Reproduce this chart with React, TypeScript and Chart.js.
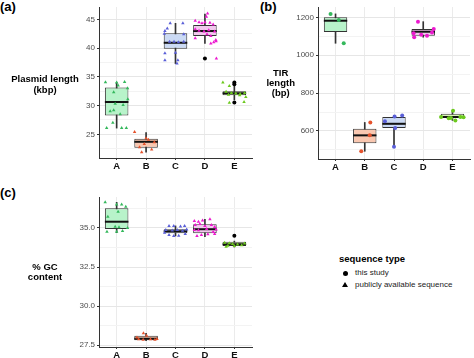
import React, { useEffect, useRef } from "react";
import { Chart, registerables } from "chart.js";
Chart.register(...registerables);

const FONT = '"Liberation Sans", Arial, Helvetica, sans-serif';
Chart.defaults.font.family = FONT;

const CATEGORIES = ["A", "B", "C", "D", "E"];
const POINT_COLORS = ["#34b85c", "#e5522c", "#5a5fd8", "#ec19cf", "#6cc91e"];
const BOX_FILLS = ["#b8f3ca", "#f9c7b0", "#cbdaf4", "#f2c8ee", "#daf5b8"];

// (a) Plasmid length (kbp)
const PL_Q1 = [28.25, 22.66, 39.87, 42.1, 31.79];
const PL_MEDIAN = [30.62, 23.7, 40.92, 42.96, 32.14];
const PL_Q3 = [33.13, 24.23, 42.56, 44.0, 32.49];
const PL_LOW = [26.08, 21.9, 37.3, 40.8, 31.0];
const PL_HIGH = [34.06, 25.28, 44.3, 45.9, 33.4];
const PL_OUTLIERS = [[], [], [], [38.2], [34.0, 33.7, 30.55]];
const PL_A = [[-0.38, 34.05], [0.0, 34.0], [0.27, 34.1], [0.05, 33.5], [-0.1, 32.3], [0.37, 33.0], [0.38, 31.1], [-0.05, 30.3], [0.22, 30.1], [-0.1, 29.2], [-0.22, 29.0], [0.12, 28.5], [-0.13, 27.0], [-0.34, 26.1], [0.17, 26.1], [0.33, 26.1]];
const PL_B = [[-0.39, 25.38], [0.0, 24.33], [0.08, 24.05], [0.28, 23.6], [-0.06, 23.3], [-0.15, 21.9], [0.19, 22.36], [-0.22, 22.77]];
const PL_C = [[-0.36, 42.96], [-0.28, 43.4], [-0.18, 44.3], [0.25, 44.3], [0.28, 42.4], [-0.38, 42.5], [-0.2, 41.1], [-0.05, 41.1], [0.1, 41.0], [0.28, 41.1], [0.0, 39.2], [-0.36, 39.1], [-0.36, 37.9], [0.08, 37.9], [0.05, 37.3]];
const PL_D = [[0.09, 46.0], [0.05, 45.45], [-0.33, 44.76], [-0.2, 44.5], [-0.1, 44.3], [0.0, 44.5], [0.17, 44.4], [0.28, 44.1], [-0.33, 43.25], [-0.2, 43.0], [-0.03, 42.9], [0.13, 43.1], [0.33, 42.9], [0.07, 42.4], [0.2, 42.1], [-0.33, 41.7], [0.37, 41.4], [0.2, 40.8], [0.3, 41.0], [0.38, 41.2], [0.39, 38.2]];
const PL_E = [[-0.39, 34.0], [-0.17, 33.4], [-0.28, 32.4], [-0.1, 32.2], [0.05, 32.1], [0.2, 32.0], [0.35, 32.2], [-0.2, 31.9], [0.18, 31.8], [0.39, 31.5], [-0.17, 30.5], [0.33, 30.6]];
const PL_MAJOR = [25, 30, 35, 40, 45];
const PL_MINOR = [22.5, 27.5, 32.5, 37.5, 42.5];
const PL_RANGE = [20.88, 47.14];

// (b) TIR length (bp)
const TIR_Q1 = [1122.6, 535, 616, 1103, 668];
const TIR_MEDIAN = [1182, 577, 638, 1124, 674];
const TIR_Q3 = [1200, 612, 674, 1138, 691];
const TIR_LOW = [1063, 493, 517, 1095, 656];
const TIR_HIGH = [1218, 645, 682, 1177, 707];
const TIR_OUTLIERS = [[], [], [], [], []];
const TIR_A = [[-0.17, 1218], [0.11, 1186], [0.28, 1063]];
const TIR_B = [[-0.12, 493], [0.19, 645], [0.17, 577]];
const TIR_C = [[-0.31, 651], [0.02, 677], [0.28, 682], [0.04, 616], [0.0, 517]];
const TIR_D = [[-0.18, 1177], [-0.33, 1116], [-0.31, 1095], [0.13, 1103], [-0.07, 1108], [0.36, 1138], [0.3, 1120]];
const TIR_E = [[0.02, 707], [-0.39, 674], [-0.13, 667], [0.1, 656], [0.27, 674], [0.38, 672], [-0.05, 668]];
const TIR_MAJOR = [600, 800, 1000, 1200];
const TIR_MINOR = [500, 700, 900, 1100];
const TIR_RANGE = [452.2, 1254.4];

// (c) % GC content
const GC_Q1 = [34.94, 27.82, 34.66, 34.66, 33.85];
const GC_MEDIAN = [35.4, 27.92, 34.79, 34.92, 33.96];
const GC_Q3 = [36.26, 28.11, 34.92, 35.24, 34.12];
const GC_LOW = [34.7, 27.8, 34.49, 34.45, 33.78];
const GC_HIGH = [36.64, 28.27, 35.13, 35.56, 34.16];
const GC_OUTLIERS = [[], [], [], [], [34.51]];
const GC_A = [[-0.39, 36.64], [0.0, 36.5], [0.17, 36.5], [0.31, 36.36], [0.05, 36.04], [-0.3, 35.72], [-0.05, 35.08], [0.08, 35.05], [-0.33, 34.76], [0.0, 34.76], [0.2, 34.8], [0.37, 35.0]];
const GC_B = [[-0.09, 28.27], [0.02, 28.11], [-0.31, 28.0], [-0.25, 27.88], [-0.1, 27.85], [0.15, 27.88], [0.3, 27.86], [0.37, 27.9]];
const GC_C = [[-0.22, 35.13], [-0.06, 35.13], [0.17, 35.1], [0.31, 35.13], [-0.33, 34.87], [-0.11, 34.84], [0.06, 34.87], [0.24, 34.83], [-0.22, 34.55], [-0.06, 34.49], [0.11, 34.5], [0.33, 34.62], [-0.37, 34.7], [0.38, 34.9]];
const GC_D = [[-0.36, 35.45], [-0.22, 35.4], [-0.08, 35.48], [0.17, 35.56], [-0.33, 35.19], [-0.17, 35.26], [0.0, 35.13], [0.22, 35.19], [0.33, 35.06], [-0.36, 34.87], [-0.22, 34.85], [0.06, 34.94], [0.28, 34.75], [-0.12, 34.55], [0.1, 34.6], [0.33, 34.62], [-0.27, 34.49], [0.38, 34.9]];
const GC_E = [[-0.33, 34.06], [-0.17, 34.02], [-0.06, 33.98], [0.11, 33.94], [-0.22, 33.87], [0.0, 33.84], [-0.28, 33.8], [0.25, 33.9], [0.35, 34.0]];
const GC_MAJOR = [27.5, 30, 32.5, 35];
const GC_MINOR = [28.75, 31.25, 33.75, 36.25];
const GC_RANGE = [27.39, 36.98];

type Spec = {
  q1: number[]; med: number[]; q3: number[]; lo: number[]; hi: number[];
  outliers: number[][]; points: number[][][]; shape: string;
  range: number[]; major: number[]; minor: number[]; decimals: number;
};

const SPEC_A: Spec = { q1: PL_Q1, med: PL_MEDIAN, q3: PL_Q3, lo: PL_LOW, hi: PL_HIGH, outliers: PL_OUTLIERS, points: [PL_A, PL_B, PL_C, PL_D, PL_E], shape: "triangle", range: PL_RANGE, major: PL_MAJOR, minor: PL_MINOR, decimals: 0 };
const SPEC_B: Spec = { q1: TIR_Q1, med: TIR_MEDIAN, q3: TIR_Q3, lo: TIR_LOW, hi: TIR_HIGH, outliers: TIR_OUTLIERS, points: [TIR_A, TIR_B, TIR_C, TIR_D, TIR_E], shape: "circle", range: TIR_RANGE, major: TIR_MAJOR, minor: TIR_MINOR, decimals: 0 };
const SPEC_C: Spec = { q1: GC_Q1, med: GC_MEDIAN, q3: GC_Q3, lo: GC_LOW, hi: GC_HIGH, outliers: GC_OUTLIERS, points: [GC_A, GC_B, GC_C, GC_D, GC_E], shape: "triangle", range: GC_RANGE, major: GC_MAJOR, minor: GC_MINOR, decimals: 1 };

type Layout = { left: number; top: number; w: number; h: number; yWidth: number; xHeight: number; padTop: number; padRight: number };

function Panel({ spec, layout }: { spec: Spec; layout: Layout }) {
  const ref = useRef<HTMLCanvasElement>(null);
  useEffect(() => {
    if (!ref.current) return;
    const p = spec;
    const isMajor = (v: number) => p.major.some((m) => Math.abs(m - v) < 1e-6);
    const datasets: any[] = [];
    datasets.push({
      type: "bar", label: "whisker",
      data: CATEGORIES.map((_, i) => ({ x: i, y: [p.lo[i], p.hi[i]] })),
      backgroundColor: "#333333", borderWidth: 0, barThickness: 1, grouped: false, order: 4,
    });
    datasets.push({
      type: "bar", label: "box",
      data: CATEGORIES.map((_, i) => ({ x: i, y: [p.q1[i], p.q3[i]] })),
      backgroundColor: BOX_FILLS, borderColor: "#333333", borderWidth: 1, borderSkipped: false,
      barPercentage: 0.8, categoryPercentage: 1, grouped: false, order: 3,
    });
    datasets.push({
      type: "scatter", label: "outliers",
      data: p.outliers.flatMap((vals, i) => vals.map((v) => ({ x: i, y: v }))),
      pointStyle: "circle", pointRadius: 2, backgroundColor: "#000000", borderWidth: 0, order: 2,
    });
    p.points.forEach((pts, i) => {
      datasets.push({
        type: "scatter", label: CATEGORIES[i],
        data: pts.map(([dx, v]) => ({ x: i + dx, y: v })),
        pointStyle: p.shape, pointRadius: 2, backgroundColor: POINT_COLORS[i], borderColor: POINT_COLORS[i], borderWidth: 0, order: 1,
      });
    });
    const medianPlugin = {
      id: "medianLines",
      afterDatasetDraw(chart: any, args: any) {
        if (chart.data.datasets[args.index].label !== "box") return;
        const { ctx, scales } = chart;
        ctx.save();
        ctx.strokeStyle = "#111111";
        ctx.lineWidth = 2;
        p.med.forEach((m, i) => {
          const yy = scales.y.getPixelForValue(m);
          ctx.beginPath();
          ctx.moveTo(scales.x.getPixelForValue(i - 0.4), yy);
          ctx.lineTo(scales.x.getPixelForValue(i + 0.4), yy);
          ctx.stroke();
        });
        ctx.restore();
      },
    };
    const chart = new Chart(ref.current, {
      type: "bar",
      data: { datasets },
      plugins: [medianPlugin],
      options: {
        animation: false, responsive: false, maintainAspectRatio: false, devicePixelRatio: 1, events: [],
        layout: { padding: { top: layout.padTop, right: layout.padRight, bottom: 0, left: 0 } },
        plugins: { legend: { display: false }, tooltip: { enabled: false } },
        scales: {
          x: {
            type: "linear", min: -0.6, max: 4.6, offset: false,
            afterBuildTicks: (s: any) => { s.ticks = CATEGORIES.map((_, i) => ({ value: i })); },
            afterFit: (s: any) => { s.height = layout.xHeight; s.paddingLeft = 0; s.paddingRight = 0; },
            ticks: {
              callback: (v: any) => CATEGORIES[Math.round(v)] ?? "",
              font: { family: FONT, size: 9.5, weight: "bold" }, color: "#111111", padding: 1,
              autoSkip: false, maxRotation: 0, minRotation: 0,
            },
            grid: { offset: false, color: "#ebebeb", lineWidth: 1, tickLength: 2, tickColor: "#333333", drawTicks: true },
            border: { display: true, color: "#333333", width: 1 },
          },
          y: {
            type: "linear", min: p.range[0], max: p.range[1], beginAtZero: false,
            afterBuildTicks: (s: any) => { s.ticks = [...p.major, ...p.minor].sort((a, b) => a - b).map((v) => ({ value: v })); },
            afterFit: (s: any) => { s.width = layout.yWidth; s.paddingTop = 0; s.paddingBottom = 0; },
            ticks: {
              callback: (v: any) => (isMajor(v) ? Number(v).toFixed(p.decimals) : ""),
              font: { family: FONT, size: 8 }, color: "#4d4d4d", padding: 2, autoSkip: false,
            },
            grid: {
              color: (c: any) => (c.tick && isMajor(c.tick.value) ? "#e6e6e6" : "#f3f3f3"),
              tickColor: (c: any) => (c.tick && isMajor(c.tick.value) ? "#333333" : "rgba(0,0,0,0)"),
              tickLength: 2, drawTicks: true, lineWidth: 1,
            },
            border: { display: true, color: "#333333", width: 1 },
          },
        },
      } as any,
    } as any);
    return () => chart.destroy();
  }, []);
  return (
    <canvas
      ref={ref}
      width={layout.w}
      height={layout.h}
      style={{ position: "absolute", left: layout.left, top: layout.top, width: layout.w, height: layout.h }}
    />
  );
}

const txt: React.CSSProperties = { position: "absolute", fontFamily: FONT, color: "#000", whiteSpace: "nowrap" };

export default function App() {
  return (
    <div style={{ position: "absolute", left: 0, top: 0, width: 474, height: 358, overflow: "hidden", background: "#fff" }}>
      <Panel spec={SPEC_A} layout={{ left: 60, top: 0, w: 196, h: 175, yWidth: 39, xHeight: 17, padTop: 7, padRight: 1 }} />
      <Panel spec={SPEC_B} layout={{ left: 294, top: 0, w: 180, h: 175, yWidth: 24, xHeight: 16, padTop: 7, padRight: 0 }} />
      <Panel spec={SPEC_C} layout={{ left: 60, top: 180, w: 196, h: 178, yWidth: 39, xHeight: 11, padTop: 17, padRight: 1 }} />

      <div style={{ ...txt, left: 0, top: -1, fontSize: 13, fontWeight: "bold", lineHeight: "15px" }}>(a)</div>
      <div style={{ ...txt, left: 260, top: -1, fontSize: 13, fontWeight: "bold", lineHeight: "15px" }}>(b)</div>
      <div style={{ ...txt, left: 0, top: 185, fontSize: 13, fontWeight: "bold", lineHeight: "15px" }}>(c)</div>

      <div style={{ ...txt, left: 0, width: 90, top: 72.5, textAlign: "center", fontSize: 9.5, fontWeight: "bold", lineHeight: "11px" }}>
        Plasmid length<br />(kbp)
      </div>
      <div style={{ ...txt, left: 255.7, width: 50, top: 68, textAlign: "center", fontSize: 9.5, fontWeight: "bold", lineHeight: "10px" }}>
        TIR<br />length<br />(bp)
      </div>
      <div style={{ ...txt, left: 0, width: 90, top: 262, textAlign: "center", fontSize: 9.5, fontWeight: "bold", lineHeight: "10px" }}>
        % GC<br />content
      </div>

      <div style={{ ...txt, left: 339, top: 253, fontSize: 9.5, fontWeight: "bold", lineHeight: "11px" }}>sequence type</div>
      <div style={{ position: "absolute", left: 342.5, top: 270.5, width: 5, height: 5, borderRadius: "50%", background: "#000" }} />
      <div style={{ ...txt, left: 355, top: 268, fontSize: 8, lineHeight: "10px", color: "#222" }}>this study</div>
      <div style={{ position: "absolute", left: 342, top: 282, width: 0, height: 0, borderLeft: "3px solid transparent", borderRight: "3px solid transparent", borderBottom: "5px solid #000" }} />
      <div style={{ ...txt, left: 355, top: 280, fontSize: 8, lineHeight: "10px", color: "#222" }}>publicly available sequence</div>
    </div>
  );
}
